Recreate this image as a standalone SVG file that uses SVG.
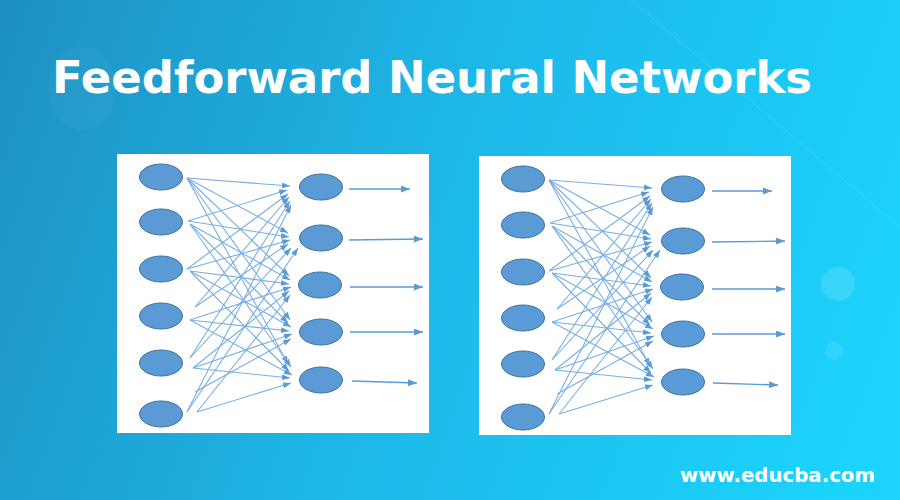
<svg xmlns="http://www.w3.org/2000/svg" width="900" height="500" viewBox="0 0 900 500">
  <defs>
    <linearGradient id="bg" gradientUnits="userSpaceOnUse" x1="0" y1="0" x2="900" y2="320">
      <stop offset="0" stop-color="#1e8fc2"/>
      <stop offset="0.5" stop-color="#1db8e8"/>
      <stop offset="1" stop-color="#1bd3fb"/>
    </linearGradient>
    <marker id="ah" markerUnits="userSpaceOnUse" markerWidth="8" markerHeight="6" refX="8" refY="3" orient="auto">
      <path d="M0,0 L8,3 L0,6 z" fill="#5b9bd5"/>
    </marker>
    <marker id="ahOut" markerUnits="userSpaceOnUse" markerWidth="9" markerHeight="7" refX="9" refY="3.5" orient="auto">
      <path d="M0,0 L9,3.5 L0,7 z" fill="#5b9bd5"/>
    </marker>
  </defs>
  <style>
    .panel { fill: #ffffff; }
    .node { fill: #5b9bd5; stroke: #41719c; stroke-width: 1; }
    .conn line { stroke: #7aaee3; stroke-width: 1.1; marker-end: url(#ah); }
    .out line { stroke: #5b9bd5; stroke-width: 1.3; marker-end: url(#ahOut); }
    .title { font-family: "DejaVu Sans", Verdana, sans-serif; font-weight: bold; fill: #ffffff; }
  </style>

  <!-- background -->
  <rect x="0" y="0" width="900" height="500" fill="url(#bg)"/>
  <ellipse cx="82" cy="88" rx="34" ry="42" fill="#ffffff" opacity="0.035"/>
  <circle cx="838" cy="284" r="17" fill="#ffffff" opacity="0.13"/>
  <circle cx="834" cy="351" r="9" fill="#ffffff" opacity="0.1"/>
  <line x1="631" y1="0" x2="900" y2="227" stroke="#ffffff" stroke-width="1" opacity="0.12"/>

  <text class="title" x="52" y="93" font-size="44" textLength="760" lengthAdjust="spacingAndGlyphs">Feedforward Neural Networks</text>
  <text class="title" x="680" y="482" font-size="19" textLength="195" lengthAdjust="spacingAndGlyphs">www.educba.com</text>

  <!-- left network -->
  <g id="network-left">
    <rect class="panel" x="117" y="154" width="312" height="279"/>
    <g id="connectors-left" class="conn">
      <line x1="187" y1="178" x2="290" y2="186"/>
      <line x1="187" y1="178" x2="288" y2="233"/>
      <line x1="187" y1="178" x2="289" y2="276"/>
      <line x1="187" y1="178" x2="290" y2="320"/>
      <line x1="187" y1="178" x2="288" y2="364"/>

      <line x1="188" y1="221" x2="287" y2="190"/>
      <line x1="188" y1="221" x2="289" y2="237"/>
      <line x1="190" y1="224" x2="290" y2="280"/>
      <line x1="190" y1="224" x2="288" y2="323"/>
      <line x1="190" y1="224" x2="291" y2="367"/>

      <line x1="187" y1="269" x2="288" y2="194"/>
      <line x1="187" y1="269" x2="290" y2="240"/>
      <line x1="190" y1="271" x2="289" y2="284"/>
      <line x1="190" y1="271" x2="291" y2="327"/>
      <line x1="190" y1="271" x2="289" y2="371"/>

      <line x1="195" y1="307" x2="289" y2="197"/>
      <line x1="195" y1="307" x2="288" y2="244"/>
      <line x1="190" y1="320" x2="291" y2="287"/>
      <line x1="190" y1="320" x2="289" y2="331"/>
      <line x1="190" y1="320" x2="292" y2="375"/>

      <line x1="190" y1="358" x2="290" y2="201"/>
      <line x1="190" y1="358" x2="291" y2="248"/>
      <line x1="193" y1="368" x2="289" y2="291"/>
      <line x1="193" y1="368" x2="292" y2="334"/>
      <line x1="193" y1="368" x2="290" y2="378"/>

      <line x1="187" y1="412" x2="291" y2="205"/>
      <line x1="187" y1="412" x2="298" y2="248"/>
      <line x1="197" y1="412" x2="290" y2="295"/>
      <line x1="195" y1="392" x2="291" y2="339"/>
      <line x1="197" y1="412" x2="291" y2="383"/>
    </g>
    <g id="outputs-left" class="out">
      <line x1="349" y1="189" x2="410" y2="189"/>
      <line x1="349" y1="240" x2="423" y2="239"/>
      <line x1="350" y1="287" x2="423" y2="287"/>
      <line x1="350" y1="332" x2="423" y2="332"/>
      <line x1="352" y1="381" x2="417" y2="383"/>
    </g>
    <g id="L-in1"><ellipse class="node" cx="161" cy="177" rx="21.5" ry="13"/></g>
    <g id="L-in2"><ellipse class="node" cx="161" cy="222" rx="21.5" ry="13"/></g>
    <g id="L-in3"><ellipse class="node" cx="161" cy="269" rx="21.5" ry="13"/></g>
    <g id="L-in4"><ellipse class="node" cx="161" cy="316" rx="21.5" ry="13"/></g>
    <g id="L-in5"><ellipse class="node" cx="161" cy="363" rx="21.5" ry="13"/></g>
    <g id="L-in6"><ellipse class="node" cx="161" cy="414" rx="21.5" ry="13"/></g>
    <g id="L-out1"><ellipse class="node" cx="321" cy="187" rx="21.5" ry="13"/></g>
    <g id="L-out2"><ellipse class="node" cx="321" cy="238" rx="21.5" ry="13"/></g>
    <g id="L-out3"><ellipse class="node" cx="320" cy="285" rx="21.5" ry="13"/></g>
    <g id="L-out4"><ellipse class="node" cx="321" cy="332" rx="21.5" ry="13"/></g>
    <g id="L-out5"><ellipse class="node" cx="321" cy="380" rx="21.5" ry="13"/></g>
  </g>

  <!-- right network -->
  <g id="network-right" transform="translate(362,2)">
    <rect class="panel" x="117" y="154" width="312" height="279"/>
    <g id="connectors-right" class="conn">
      <line x1="187" y1="178" x2="290" y2="186"/>
      <line x1="187" y1="178" x2="288" y2="233"/>
      <line x1="187" y1="178" x2="289" y2="276"/>
      <line x1="187" y1="178" x2="290" y2="320"/>
      <line x1="187" y1="178" x2="288" y2="364"/>

      <line x1="188" y1="221" x2="287" y2="190"/>
      <line x1="188" y1="221" x2="289" y2="237"/>
      <line x1="190" y1="224" x2="290" y2="280"/>
      <line x1="190" y1="224" x2="288" y2="323"/>
      <line x1="190" y1="224" x2="291" y2="367"/>

      <line x1="187" y1="269" x2="288" y2="194"/>
      <line x1="187" y1="269" x2="290" y2="240"/>
      <line x1="190" y1="271" x2="289" y2="284"/>
      <line x1="190" y1="271" x2="291" y2="327"/>
      <line x1="190" y1="271" x2="289" y2="371"/>

      <line x1="195" y1="307" x2="289" y2="197"/>
      <line x1="195" y1="307" x2="288" y2="244"/>
      <line x1="190" y1="320" x2="291" y2="287"/>
      <line x1="190" y1="320" x2="289" y2="331"/>
      <line x1="190" y1="320" x2="292" y2="375"/>

      <line x1="190" y1="358" x2="290" y2="201"/>
      <line x1="190" y1="358" x2="291" y2="248"/>
      <line x1="193" y1="368" x2="289" y2="291"/>
      <line x1="193" y1="368" x2="292" y2="334"/>
      <line x1="193" y1="368" x2="290" y2="378"/>

      <line x1="187" y1="412" x2="291" y2="205"/>
      <line x1="187" y1="412" x2="298" y2="248"/>
      <line x1="197" y1="412" x2="290" y2="295"/>
      <line x1="195" y1="392" x2="291" y2="339"/>
      <line x1="197" y1="412" x2="291" y2="383"/>
    </g>
    <g id="outputs-right" class="out">
      <line x1="350" y1="189" x2="410" y2="189"/>
      <line x1="350" y1="240" x2="423" y2="239"/>
      <line x1="350" y1="287" x2="423" y2="287"/>
      <line x1="350" y1="332" x2="423" y2="332"/>
      <line x1="351" y1="381" x2="416" y2="383"/>
    </g>
    <g id="R-in1"><ellipse class="node" cx="161" cy="177" rx="21.5" ry="13"/></g>
    <g id="R-in2"><ellipse class="node" cx="161" cy="223" rx="21.5" ry="13"/></g>
    <g id="R-in3"><ellipse class="node" cx="161" cy="270" rx="21.5" ry="13"/></g>
    <g id="R-in4"><ellipse class="node" cx="161" cy="316" rx="21.5" ry="13"/></g>
    <g id="R-in5"><ellipse class="node" cx="161" cy="362" rx="21.5" ry="13"/></g>
    <g id="R-in6"><ellipse class="node" cx="161" cy="415" rx="21.5" ry="13"/></g>
    <g id="R-out1"><ellipse class="node" cx="321" cy="187" rx="21.5" ry="13"/></g>
    <g id="R-out2"><ellipse class="node" cx="321" cy="239" rx="21.5" ry="13"/></g>
    <g id="R-out3"><ellipse class="node" cx="320" cy="285" rx="21.5" ry="13"/></g>
    <g id="R-out4"><ellipse class="node" cx="321" cy="332" rx="21.5" ry="13"/></g>
    <g id="R-out5"><ellipse class="node" cx="321" cy="380" rx="21.5" ry="13"/></g>
  </g>
</svg>
